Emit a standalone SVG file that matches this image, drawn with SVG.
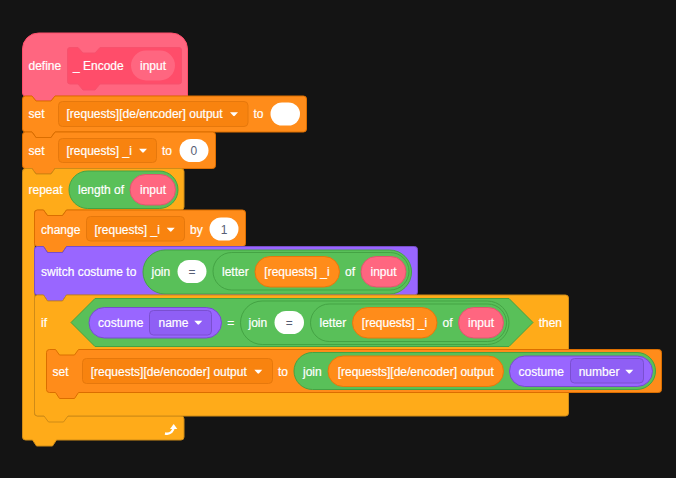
<svg xmlns="http://www.w3.org/2000/svg" width="676" height="478" viewBox="0 0 676 478">
<style>
text{font-family:"Liberation Sans",Arial,sans-serif;font-size:12px;fill:#fff;dominant-baseline:central;stroke:#fff;stroke-width:.2}
.m{text-anchor:middle}
text.d{fill:#575e75;stroke:none}
.or{fill:#ff8c1a;stroke:#db6e00}
.orp{fill:#ff8c1a;stroke:#e6780c}
.ye{fill:#ffab19;stroke:#cf8b17}
.gr{fill:#59c059;stroke:#389438}
.grs{fill:#59c059;stroke:#44a344}
.pu{fill:#9966ff;stroke:#774dcb}
.pk{fill:#ff6680;stroke:#ff4d6a}
.pkp{fill:#ff6680;stroke:#e0566e}
.wh{fill:#fff}
.ddo{fill:#f8830f;stroke:#e6780c}
.ddp{fill:#8f5ff5;stroke:#7a50d0}
.ar{fill:#fff}
</style>
<defs><path id="tri" d="M-4,-1.800H4L0.800,1.800Q0,2.500 -0.800,1.800Z"/></defs>
<rect width="676" height="478" fill="#141414"/>

<g id="define">
<path class="pk" d="M22.500,49A16,16 0 0 1 38.500,33H171.500A16,16 0 0 1 187.500,49V96H55L51,101H36L32,96H25.500Q22.500,96 22.500,93Z"/>
<path d="M70,47.500H78L83,53H95L100,47.500H179Q181.500,47.500 181.500,50V81.500Q181.500,84 179,84H100L95,90H83L78,84H70Q67.500,84 67.500,81.500V50Q67.500,47.500 70,47.500Z" fill="#ff4d6a" stroke="#f7516d"/>
<text x="28.500" y="65.500">define</text>
<text x="73" y="65.500">_ Encode</text>
<rect x="131" y="50.500" width="44" height="30" rx="15" fill="#ff6680"/>
<text class="m" x="153" y="65.500">input</text>
</g>

<g id="set-output">
<path class="or" d="M22.500,99Q22.500,96 25.500,96H32L36,101H51L55,96H303.500Q306.500,96 306.500,99V129Q306.500,132 303.500,132H55L51,137.500H36L32,132H25.500Q22.500,132 22.500,129Z"/>
<text x="28.500" y="114">set</text>
<rect class="ddo" x="58.500" y="101.500" width="189.500" height="25" rx="4"/>
<text x="66.500" y="114">[requests][de/encoder] output</text>
<use href="#tri" class="ar" x="234" y="114"/>
<text x="253.500" y="114">to</text>
<rect class="wh" x="270.500" y="102.500" width="29.500" height="23" rx="11.500"/>
</g>

<g id="set-i">
<path class="or" d="M22.500,135Q22.500,132 25.500,132H32L36,137.500H51L55,132H212.500Q215.500,132 215.500,135V165.500Q215.500,168.500 212.500,168.500H55L51,174H36L32,168.500H25.500Q22.500,168.500 22.500,165.500Z"/>
<text x="28.500" y="150.500">set</text>
<rect class="ddo" x="58.500" y="138.500" width="98" height="24" rx="4"/>
<text x="66.500" y="150.500">[requests] _i</text>
<use href="#tri" class="ar" x="143" y="150.500"/>
<text x="162" y="150.500">to</text>
<rect class="wh" x="179.500" y="139" width="29" height="23" rx="11.500"/>
<text class="m d" x="193.800" y="150.500">0</text>
</g>

<g id="repeat">
<path class="ye" d="M22.500,171.500Q22.500,168.500 25.500,168.500H32L36,174H51L55,168.500H181Q184,168.500 184,171.500V207Q184,210 181,210H66.500L62.500,215.500H47.500L43.500,210H37.500Q34.500,210 34.500,213V413Q34.500,416 37.500,416H181Q184,416 184,419V437Q184,440 181,440H56.500L52.500,446H36.500L32.500,440H25.500Q22.500,440 22.500,437Z"/>
<text x="28.500" y="190">repeat</text>
<rect class="grs" x="69" y="171" width="109" height="37.500" rx="18.750"/>
<text x="78" y="190">length of</text>
<rect class="pkp" x="130" y="174.500" width="45.500" height="30.500" rx="15.250"/>
<text class="m" x="153" y="190">input</text>
<path d="M165,433.500Q169,434.500 171.500,432Q173.500,430 173.500,427.500" fill="none" stroke="#fff" stroke-width="2.400"/>
<path class="ar" d="M170,429L173.700,424L177.300,429Z"/>
</g>

<g id="change">
<path class="or" d="M34.500,213Q34.500,210 37.500,210H43.500L47.500,215.500H62.500L66.500,210H242.500Q245.500,210 245.500,213V243.500Q245.500,246.500 242.500,246.500H66.500L62.500,252.500H47.500L43.500,246.500H37.500Q34.500,246.500 34.500,243.500Z"/>
<text x="41" y="229.500">change</text>
<rect class="ddo" x="86.500" y="216.500" width="98" height="24.500" rx="4"/>
<text x="94.500" y="229.500">[requests] _i</text>
<use href="#tri" class="ar" x="170.700" y="229.500"/>
<text x="190" y="229.500">by</text>
<rect class="wh" x="209.500" y="217.500" width="29" height="23" rx="11.500"/>
<text class="m d" x="224" y="229.500">1</text>
</g>

<g id="switch-costume">
<path class="pu" d="M34.500,249.500Q34.500,246.500 37.500,246.500H43.500L47.500,252.500H62.500L66.500,246.500H414.500Q417.500,246.500 417.500,249.500V292Q417.500,295 414.500,295H66.500L62.500,301H47.500L43.500,295H37.500Q34.500,295 34.500,292Z"/>
<text x="41" y="272">switch costume to</text>
<rect class="grs" x="143" y="250" width="268.500" height="44" rx="22"/>
<text x="151.500" y="272">join</text>
<rect class="wh" x="177.500" y="260" width="29" height="23" rx="11.500"/>
<text class="m d" x="192" y="272">=</text>
<rect class="grs" x="213" y="252.500" width="196" height="37.500" rx="18.750"/>
<text x="222" y="272">letter</text>
<rect class="orp" x="255" y="256.500" width="84.500" height="30.500" rx="15.250"/>
<text class="m" x="297" y="272">[requests] _i</text>
<text x="345" y="272">of</text>
<rect class="pkp" x="361" y="256.500" width="45" height="30.500" rx="15.250"/>
<text class="m" x="383.500" y="272">input</text>
</g>

<g id="if">
<path class="ye" d="M34.500,298Q34.500,295 37.500,295H43.500L47.500,301H62.500L66.500,295H565.500Q568.500,295 568.500,298V413Q568.500,416 565.500,416H68L63.500,422H48.500L44,416H37.500Q34.500,416 34.500,413Z"/>
<text x="41" y="322.500">if</text>
<path class="grs" d="M71,322.500L95,298.500H509L533,322.500L509,346.500H95Z"/>
<rect class="pu" x="89" y="307.500" width="132.500" height="30.500" rx="15.250"/>
<text x="98" y="322.500">costume</text>
<rect class="ddp" x="149.500" y="310.500" width="62" height="24.500" rx="4"/>
<text x="158.500" y="322.500">name</text>
<use href="#tri" class="ar" x="198.300" y="322.500"/>
<text class="m" x="230.700" y="322.500">=</text>
<rect class="grs" x="240.500" y="301" width="268.500" height="43.500" rx="21.750"/>
<text x="248.500" y="322.500">join</text>
<rect class="wh" x="274.500" y="311" width="29.500" height="23" rx="11.500"/>
<text class="m d" x="289.300" y="322.500">=</text>
<rect class="grs" x="310.500" y="304" width="196" height="37.500" rx="18.750"/>
<text x="319.500" y="322.500">letter</text>
<rect class="orp" x="352.500" y="307.500" width="84.500" height="30.500" rx="15.250"/>
<text class="m" x="394.500" y="322.500">[requests] _i</text>
<text x="442.500" y="322.500">of</text>
<rect class="pkp" x="458.500" y="307.500" width="45" height="30.500" rx="15.250"/>
<text class="m" x="481" y="322.500">input</text>
<text x="538.700" y="322.500">then</text>
</g>

<g id="set-output-join">
<path class="or" d="M46.500,352.500Q46.500,349.500 49.500,349.500H55.500L59.500,355H74.500L78.500,349.500H658.500Q661.500,349.500 661.500,352.500V389.500Q661.500,392.500 658.500,392.500H78.500L74.500,398.500H59.500L55.500,392.500H49.500Q46.500,392.500 46.500,389.500Z"/>
<text x="52.500" y="371.500">set</text>
<rect class="ddo" x="82.500" y="358.500" width="190" height="25" rx="4"/>
<text x="90.700" y="371.500">[requests][de/encoder] output</text>
<use href="#tri" class="ar" x="258.300" y="371.500"/>
<text x="278" y="371.500">to</text>
<rect class="grs" x="294" y="352.500" width="361.500" height="37" rx="18.500"/>
<text x="303" y="371.500">join</text>
<rect class="orp" x="328" y="356" width="175.500" height="30.500" rx="15.250"/>
<text class="m" x="415.700" y="371.500">[requests][de/encoder] output</text>
<rect class="pu" x="509.500" y="356" width="143" height="30.500" rx="15.250"/>
<text x="518.500" y="371.500">costume</text>
<rect class="ddp" x="570.500" y="358.500" width="73" height="24.500" rx="4"/>
<text x="578.700" y="371.500">number</text>
<use href="#tri" class="ar" x="629.300" y="371.500"/>
</g>
</svg>
